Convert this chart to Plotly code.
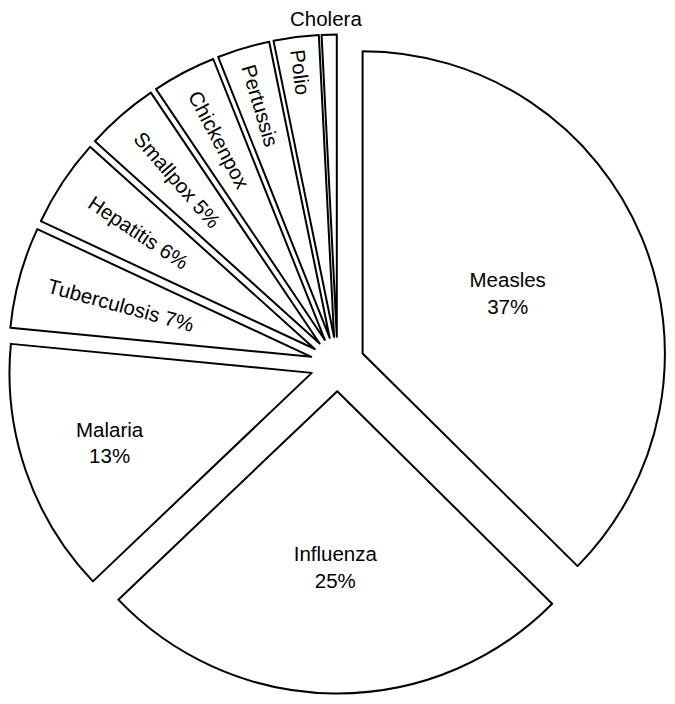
import plotly.graph_objects as go

# diseases clockwise from 12 o'clock
diseases = ["Measles", "Influenza", "Malaria", "Tuberculosis", "Hepatitis",
            "Smallpox", "Chickenpox", "Pertussis", "Polio", "Cholera"]
shares = [37.3, 25.4, 13.6, 5.4, 4.7, 3.9, 3.4, 2.8, 2.4, 0.8]
labels_big = ["Measles<br>37%", "Influenza<br>25%", "Malaria<br>13%",
              "", "", "", "", "", "", ""]
labels_small = ["", "", "", "Tuberculosis 7%", "Hepatitis 6%", "Smallpox 5%",
                "Chickenpox", "Pertussis", "Polio", ""]

font = dict(family="Arial, Liberation Sans, sans-serif", size=20.5, color="black")
pull = [0.09] * len(diseases)

fig = go.Figure()

# wedges + horizontal labels
fig.add_trace(go.Pie(
    labels=diseases, values=shares, sort=False, direction="clockwise",
    rotation=0, pull=pull, automargin=False,
    text=labels_big, textinfo="text", textposition="inside",
    insidetextorientation="horizontal",
    marker=dict(colors=["white"] * len(diseases),
                line=dict(color="black", width=2)),
    textfont=font,
    showlegend=False, hoverinfo="label+percent",
))

# same geometry, transparent, only carries the radial labels
fig.add_trace(go.Pie(
    labels=diseases, values=shares, sort=False, direction="clockwise",
    rotation=0, pull=pull, automargin=False,
    text=labels_small, textinfo="text", textposition="inside",
    insidetextorientation="radial",
    marker=dict(colors=["rgba(0,0,0,0)"] * len(diseases),
                line=dict(width=0)),
    textfont=font,
    showlegend=False, hoverinfo="skip",
))

# tiny Cholera slice is labelled above the pie
fig.add_annotation(text="Cholera", x=0.4833, y=0.9846, xref="paper", yref="paper",
                   xanchor="center", yanchor="middle", showarrow=False, font=font)

fig.update_layout(
    width=675, height=720,
    margin=dict(l=0, r=16, t=0, b=8),
    paper_bgcolor="white",
    uniformtext=dict(minsize=20.5, mode="show"),
)

fig.write_html("out.html")
